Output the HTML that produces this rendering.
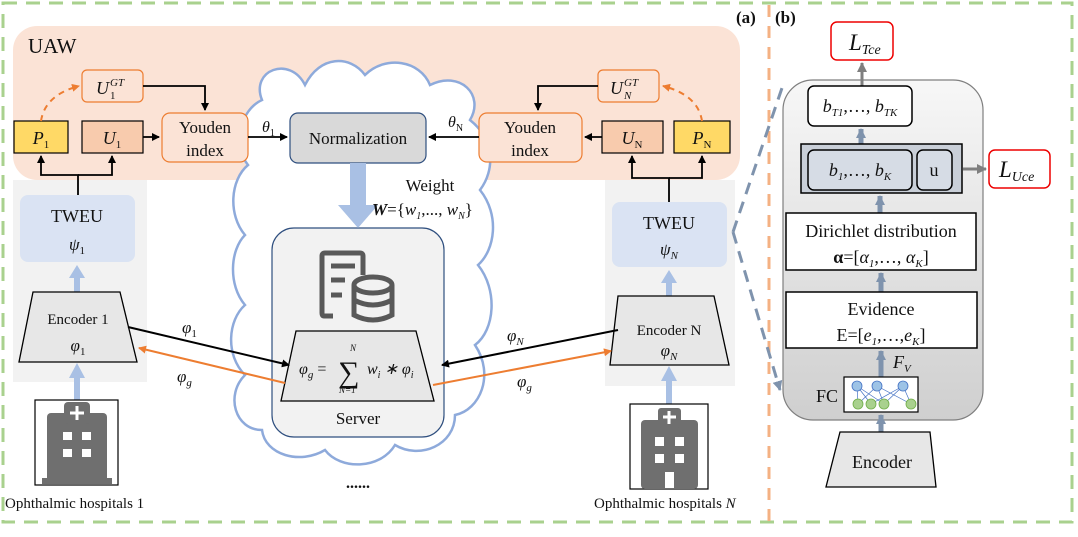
<!DOCTYPE html>
<html><head><style>body{margin:0;background:#fff}svg{display:block}text{font-family:"Liberation Serif",serif;fill:#111}</style></head><body>
<svg width="1078" height="537" viewBox="0 0 1078 537" xmlns="http://www.w3.org/2000/svg">
<defs>
<marker id="ak" markerWidth="8" markerHeight="8" refX="7" refY="4" orient="auto" markerUnits="userSpaceOnUse"><path d="M0,0 L8,4 L0,8z" fill="#000"/></marker>
<marker id="ao" markerWidth="8" markerHeight="8" refX="7" refY="4" orient="auto" markerUnits="userSpaceOnUse"><path d="M0,0 L8,4 L0,8z" fill="#ed7d31"/></marker>
<marker id="ag" markerWidth="10" markerHeight="10" refX="9" refY="5" orient="auto" markerUnits="userSpaceOnUse"><path d="M0,0 L10,5 L0,10z" fill="#7f7f7f"/></marker>
<marker id="ab" markerWidth="10" markerHeight="10" refX="9" refY="5" orient="auto" markerUnits="userSpaceOnUse"><path d="M0,0 L10,5 L0,10z" fill="#7f93ad"/></marker>
<linearGradient id="gg" x1="0" y1="0" x2="0" y2="1"><stop offset="0" stop-color="#f7f7f7"/><stop offset="1" stop-color="#cfcfcf"/></linearGradient>
</defs>
<rect x="3" y="3" width="1069" height="519" fill="none" stroke="#a9d18e" stroke-width="3" stroke-dasharray="14,9"/>
<line x1="769" y1="5" x2="769" y2="522" stroke="#f4b183" stroke-width="3" stroke-dasharray="12,9"/>
<rect x="13" y="26" width="727" height="154" rx="24" fill="#fbe3d6"/>
<rect x="13" y="180" width="134" height="202" fill="#f2f2f2"/>
<rect x="605" y="180" width="130" height="206" fill="#f2f2f2"/>
<text x="28" y="53" font-size="21">UAW</text>
<path d="M262,100 C250,70 290,55 305,85 C320,55 350,55 365,75 C385,55 420,60 430,85 C460,70 485,95 470,120 C495,140 495,170 480,190 C500,215 495,250 478,265 C498,290 495,330 475,345 C495,375 480,410 455,415 C455,445 420,460 395,445 C380,470 340,470 325,450 C300,465 265,455 262,430 C235,430 225,395 245,375 C225,355 228,320 245,305 C228,285 230,250 245,235 C228,215 230,180 248,165 C232,145 240,110 262,100z" fill="#fff" stroke="#8eaadb" stroke-width="2.5"/>
<rect x="272" y="228" width="172" height="209" rx="22" fill="#f2f2f2" stroke="#2f4f7f" stroke-width="1.2"/>
<g fill="none" stroke="#595959" stroke-width="5">
<path d="M333,316 L324,316 Q322,316 322,313 L322,256 Q322,253 325,253 L360,253 Q363,253 363,256 L363,275"/>
<line x1="331" y1="266" x2="355" y2="266"/><line x1="331" y1="280" x2="345" y2="280"/><line x1="331" y1="295" x2="342" y2="295"/>
<ellipse cx="373" cy="285" rx="19" ry="8"/><path d="M354,285 V315 Q373,325 392,315 V285"/><path d="M354,300 Q373,310 392,300"/>
</g>
<polygon points="296,331 416,331 434,401 281,401" fill="#e7e7e7" stroke="#000" stroke-width="1.3"/>
<text x="299" y="374" font-size="16" font-style="italic">φ<tspan font-size="11" dy="4">g</tspan><tspan dy="-4" font-style="normal"> = </tspan></text>
<text x="338" y="382" font-size="30">∑</text>
<text x="350" y="351" font-size="9" font-style="italic">N</text>
<text x="339" y="393" font-size="9" font-style="italic">N=1</text>
<text x="367" y="374" font-size="16" font-style="italic">w<tspan font-size="10" dy="4">i</tspan><tspan dy="-4"> ∗ φ</tspan><tspan font-size="10" dy="4">i</tspan></text>
<text x="358" y="424" font-size="17" text-anchor="middle">Server</text>
<text x="358" y="488" font-size="16" text-anchor="middle" font-weight="bold">......</text>
<rect x="14" y="121" width="54" height="32" fill="#ffd966" stroke="#000" stroke-width="1.2"/>
<text x="41" y="144" font-size="18" text-anchor="middle" font-style="italic">P<tspan font-style="normal" font-size="11" dy="4">1</tspan></text>
<rect x="82" y="121" width="61" height="32" fill="#f8cbad" stroke="#000" stroke-width="1.2"/>
<text x="112" y="144" font-size="18" text-anchor="middle" font-style="italic">U<tspan font-style="normal" font-size="11" dy="4">1</tspan></text>
<rect x="82" y="70" width="61" height="32" rx="5" fill="#fbe3d6" stroke="#ed7d31" stroke-width="1.2"/>
<text x="96" y="94" font-size="18" font-style="italic">U</text><text x="110" y="86" font-size="11" font-style="italic">GT</text><text x="110" y="99" font-size="11">1</text>
<rect x="162" y="113" width="86" height="49" rx="8" fill="#fbe3d6" stroke="#ed7d31" stroke-width="1.2"/>
<text x="205" y="133" font-size="17" text-anchor="middle">Youden</text><text x="205" y="156" font-size="17" text-anchor="middle">index</text>
<rect x="290" y="113" width="136" height="50" rx="8" fill="#d9d9d9" stroke="#2f4f7f" stroke-width="1.2"/>
<text x="358" y="144" font-size="17" text-anchor="middle">Normalization</text>
<rect x="479" y="113" width="103" height="49" rx="8" fill="#fbe3d6" stroke="#ed7d31" stroke-width="1.2"/>
<text x="530" y="133" font-size="17" text-anchor="middle">Youden</text><text x="530" y="156" font-size="17" text-anchor="middle">index</text>
<rect x="602" y="121" width="61" height="32" fill="#f8cbad" stroke="#000" stroke-width="1.2"/>
<text x="632" y="144" font-size="18" text-anchor="middle" font-style="italic">U<tspan font-style="normal" font-size="11" dy="4">N</tspan></text>
<rect x="674" y="121" width="56" height="32" fill="#ffd966" stroke="#000" stroke-width="1.2"/>
<text x="702" y="144" font-size="18" text-anchor="middle" font-style="italic">P<tspan font-style="normal" font-size="11" dy="4">N</tspan></text>
<rect x="598" y="70" width="61" height="32" rx="5" fill="#fbe3d6" stroke="#ed7d31" stroke-width="1.2"/>
<text x="610" y="94" font-size="18" font-style="italic">U</text><text x="624" y="86" font-size="11" font-style="italic">GT</text><text x="624" y="99" font-size="11" font-style="italic">N</text>
<text x="262" y="132" font-size="16" font-style="italic">θ<tspan font-style="normal" font-size="10" dy="4">1</tspan></text>
<text x="448" y="127" font-size="16" font-style="italic">θ<tspan font-style="normal" font-size="10" dy="4">N</tspan></text>
<g stroke="#000" stroke-width="1.8" fill="none">
<path d="M143,86 H205 V110" marker-end="url(#ak)"/>
<line x1="143" y1="137" x2="159" y2="137" marker-end="url(#ak)"/>
<line x1="248" y1="137" x2="287" y2="137" marker-end="url(#ak)"/>
<line x1="479" y1="137" x2="429" y2="137" marker-end="url(#ak)"/>
<path d="M598,86 H538 V110" marker-end="url(#ak)"/>
<line x1="602" y1="137" x2="585" y2="137" marker-end="url(#ak)"/>
<path d="M78,195 V175 H41 V156" marker-end="url(#ak)"/><path d="M78,175 H112 V156" marker-end="url(#ak)"/>
<path d="M669,202 V178 H632 V156" marker-end="url(#ak)"/><path d="M669,178 H702 V156" marker-end="url(#ak)"/>
</g>
<path d="M41,121 Q45,95 79,86" stroke="#ed7d31" stroke-width="2" fill="none" stroke-dasharray="6,5" marker-end="url(#ao)"/>
<path d="M702,121 Q698,95 663,86" stroke="#ed7d31" stroke-width="2" fill="none" stroke-dasharray="6,5" marker-end="url(#ao)"/>
<polygon points="350,163 366,163 366,205 378,205 358,228 338,205 350,205" fill="#a9c0e4"/>
<text x="430" y="191" font-size="17" text-anchor="middle">Weight</text>
<text x="372" y="215" font-size="17"><tspan font-weight="bold" font-style="italic">W</tspan>={<tspan font-style="italic">w</tspan><tspan font-size="10" dy="4" font-style="italic">1</tspan><tspan dy="-4">,..., </tspan><tspan font-style="italic">w</tspan><tspan font-size="10" dy="4" font-style="italic">N</tspan><tspan dy="-4">}</tspan></text>
<rect x="20" y="195" width="115" height="67" rx="8" fill="#dae3f3"/>
<text x="77" y="222" font-size="18" text-anchor="middle">TWEU</text><text x="77" y="250" font-size="17" text-anchor="middle" font-style="italic">ψ<tspan font-style="normal" font-size="11" dy="4">1</tspan></text>
<rect x="612" y="202" width="115" height="65" rx="8" fill="#dae3f3"/>
<text x="669" y="229" font-size="18" text-anchor="middle">TWEU</text><text x="669" y="255" font-size="17" text-anchor="middle" font-style="italic">ψ<tspan font-size="11" dy="4">N</tspan></text>
<g fill="#a9c0e4">
<polygon points="74,292 80,292 80,278 85,278 77,265 69,278 74,278"/>
<polygon points="74,400 80,400 80,378 85,378 77,363 69,378 74,378"/>
<polygon points="666,296 672,296 672,283 677,283 669,270 661,283 666,283"/>
<polygon points="666,404 672,404 672,381 677,381 669,366 661,381 666,381"/>
</g>
<polygon points="33,292 120,292 137,362 19,362" fill="#e7e7e7" stroke="#000" stroke-width="1.3"/>
<text x="78" y="324" font-size="15" text-anchor="middle">Encoder 1</text><text x="78" y="351" font-size="17" text-anchor="middle" font-style="italic">φ<tspan font-style="normal" font-size="11" dy="4">1</tspan></text>
<polygon points="618,296 714,296 729,365 610,365" fill="#e7e7e7" stroke="#000" stroke-width="1.3"/>
<text x="669" y="335" font-size="15" text-anchor="middle">Encoder N</text><text x="669" y="356" font-size="17" text-anchor="middle" font-style="italic">φ<tspan font-size="11" dy="4">N</tspan></text>
<line x1="128" y1="327" x2="289" y2="365" stroke="#000" stroke-width="2" marker-end="url(#ak)"/>
<line x1="285" y1="383" x2="139" y2="348" stroke="#ed7d31" stroke-width="2" marker-end="url(#ao)"/>
<line x1="618" y1="330" x2="442" y2="365" stroke="#000" stroke-width="2" marker-end="url(#ak)"/>
<line x1="433" y1="385" x2="611" y2="351" stroke="#ed7d31" stroke-width="2" marker-end="url(#ao)"/>
<text x="182" y="333" font-size="17" font-style="italic">φ<tspan font-style="normal" font-size="11" dy="4">1</tspan></text>
<text x="177" y="382" font-size="17" font-style="italic">φ<tspan font-size="11" dy="4">g</tspan></text>
<text x="507" y="341" font-size="17" font-style="italic">φ<tspan font-size="11" dy="4">N</tspan></text>
<text x="517" y="387" font-size="17" font-style="italic">φ<tspan font-size="11" dy="4">g</tspan></text>
<g>
<rect x="35" y="400" width="83" height="85" fill="#fff" stroke="#000" stroke-width="1.2"/>
<rect x="47" y="413" width="60" height="70" rx="4" fill="#6f6f6f"/><rect x="42" y="478" width="70" height="6" fill="#6f6f6f"/>
<rect x="64" y="402" width="26" height="22" rx="4" fill="#6f6f6f"/>
<path d="M77,406 V420 M70,413 H84" stroke="#fff" stroke-width="3"/>
<g fill="#fff"><rect x="63" y="432" width="9" height="8"/><rect x="82" y="432" width="9" height="8"/><rect x="63" y="449" width="9" height="8"/><rect x="82" y="449" width="9" height="8"/></g>
</g>
<text x="5" y="508" font-size="15">Ophthalmic hospitals 1</text>
<g>
<rect x="630" y="404" width="78" height="85" fill="#fff" stroke="#000" stroke-width="1.2"/>
<rect x="641" y="420" width="57" height="69" rx="4" fill="#6f6f6f"/>
<rect x="658" y="408" width="23" height="20" rx="3" fill="#6f6f6f"/>
<path d="M669,411 V424 M663,417 H676" stroke="#fff" stroke-width="3"/>
<g fill="#fff"><rect x="655" y="437" width="9" height="9"/><rect x="675" y="437" width="9" height="9"/><rect x="655" y="454" width="9" height="9"/><rect x="675" y="454" width="9" height="9"/><rect x="665" y="472" width="9" height="16"/></g>
</g>
<text x="594" y="508" font-size="15">Ophthalmic hospitals <tspan font-style="italic">N</tspan></text>
<text x="736" y="23" font-size="17" font-weight="bold">(a)</text>
<text x="775" y="23" font-size="17" font-weight="bold">(b)</text>
<path d="M733,232 L783,85" stroke="#7f93ad" stroke-width="3" stroke-dasharray="12,8" fill="none"/>
<path d="M733,232 L780,390" stroke="#7f93ad" stroke-width="3" stroke-dasharray="12,8" fill="none" marker-end="url(#ab)"/>
<rect x="783" y="80" width="200" height="340" rx="30" fill="url(#gg)" stroke="#7f7f7f" stroke-width="1.2"/>
<rect x="831" y="22" width="62" height="38" rx="6" fill="#fff" stroke="#e00" stroke-width="1.5"/>
<text x="849" y="50" font-size="23" font-style="italic">L<tspan font-size="14" dy="4">Tce</tspan></text>
<line x1="862" y1="86" x2="862" y2="63" stroke="#7f7f7f" stroke-width="3" marker-end="url(#ag)"/>
<rect x="808" y="86" width="104" height="40" rx="6" fill="#fff" stroke="#000" stroke-width="1.5"/>
<text x="860" y="112" font-size="18" text-anchor="middle" font-style="italic">b<tspan font-size="11" dy="4">T1</tspan><tspan font-style="normal" dy="-4">,…, </tspan>b<tspan font-size="11" dy="4">TK</tspan></text>
<line x1="861" y1="144" x2="861" y2="129" stroke="#7f93ad" stroke-width="5" marker-end="url(#ab)"/>
<rect x="801" y="144" width="161" height="49" fill="#c9cfd8" stroke="#000" stroke-width="1.5"/>
<rect x="808" y="150" width="104" height="40" rx="6" fill="#d6dce5" stroke="#000" stroke-width="1.5"/>
<text x="860" y="176" font-size="18" text-anchor="middle" font-style="italic">b<tspan font-size="11" dy="4">1</tspan><tspan font-style="normal" dy="-4">,…, </tspan>b<tspan font-size="11" dy="4">K</tspan></text>
<rect x="917" y="150" width="35" height="40" rx="6" fill="#d6dce5" stroke="#000" stroke-width="1.5"/>
<text x="934" y="176" font-size="18" text-anchor="middle">u</text>
<line x1="963" y1="169" x2="986" y2="169" stroke="#7f7f7f" stroke-width="3" marker-end="url(#ag)"/>
<rect x="989" y="150" width="61" height="38" rx="6" fill="#fff" stroke="#e00" stroke-width="1.5"/>
<text x="999" y="177" font-size="23" font-style="italic">L<tspan font-size="14" dy="4">Uce</tspan></text>
<line x1="880" y1="213" x2="880" y2="196" stroke="#7f93ad" stroke-width="5" marker-end="url(#ab)"/>
<rect x="786" y="213" width="190" height="57" fill="#fff" stroke="#000" stroke-width="1.5"/>
<text x="881" y="237" font-size="18" text-anchor="middle">Dirichlet distribution</text>
<text x="881" y="263" font-size="18" text-anchor="middle"><tspan font-weight="bold">α</tspan>=[<tspan font-style="italic">α</tspan><tspan font-size="11" dy="4" font-style="italic">1</tspan><tspan dy="-4">,…, </tspan><tspan font-style="italic">α</tspan><tspan font-size="11" dy="4" font-style="italic">K</tspan><tspan dy="-4">]</tspan></text>
<line x1="881" y1="292" x2="881" y2="273" stroke="#7f93ad" stroke-width="5" marker-end="url(#ab)"/>
<rect x="786" y="292" width="191" height="56" fill="#fff" stroke="#000" stroke-width="1.5"/>
<text x="881" y="315" font-size="18" text-anchor="middle">Evidence</text>
<text x="881" y="341" font-size="18" text-anchor="middle">E=[<tspan font-style="italic">e</tspan><tspan font-size="11" dy="4" font-style="italic">1</tspan><tspan dy="-4">,…,</tspan><tspan font-style="italic">e</tspan><tspan font-size="11" dy="4" font-style="italic">K</tspan><tspan dy="-4">]</tspan></text>
<line x1="881" y1="377" x2="881" y2="351" stroke="#7f93ad" stroke-width="5" marker-end="url(#ab)"/>
<text x="893" y="368" font-size="18" font-style="italic">F<tspan font-size="11" dy="4">V</tspan></text>
<text x="816" y="402" font-size="18">FC</text>
<rect x="844" y="377" width="74" height="35" fill="#fff" stroke="#000" stroke-width="1.2"/>
<g stroke="#4472c4" stroke-width="0.7"><path d="M857,386 L858,404 M857,386 L871,404 M857,386 L884,404 M877,386 L858,404 M877,386 L884,404 M877,386 L911,404 M903,386 L871,404 M903,386 L911,404 M903,386 L884,404"/></g>
<g fill="#9dc3e6" stroke="#4472c4" stroke-width="0.8"><circle cx="857" cy="386" r="5"/><circle cx="877" cy="386" r="5"/><circle cx="903" cy="386" r="5"/></g>
<g fill="#a9d18e" stroke="#70ad47" stroke-width="0.8"><circle cx="858" cy="404" r="5"/><circle cx="871" cy="404" r="5"/><circle cx="884" cy="404" r="5"/><circle cx="911" cy="404" r="5"/></g>
<line x1="881" y1="432" x2="881" y2="415" stroke="#7f93ad" stroke-width="5" marker-end="url(#ab)"/>
<polygon points="840,432 930,432 936,487 826,487" fill="#e7e7e7" stroke="#000" stroke-width="1.3"/>
<text x="882" y="468" font-size="18" text-anchor="middle">Encoder</text>
</svg>
</body></html>
